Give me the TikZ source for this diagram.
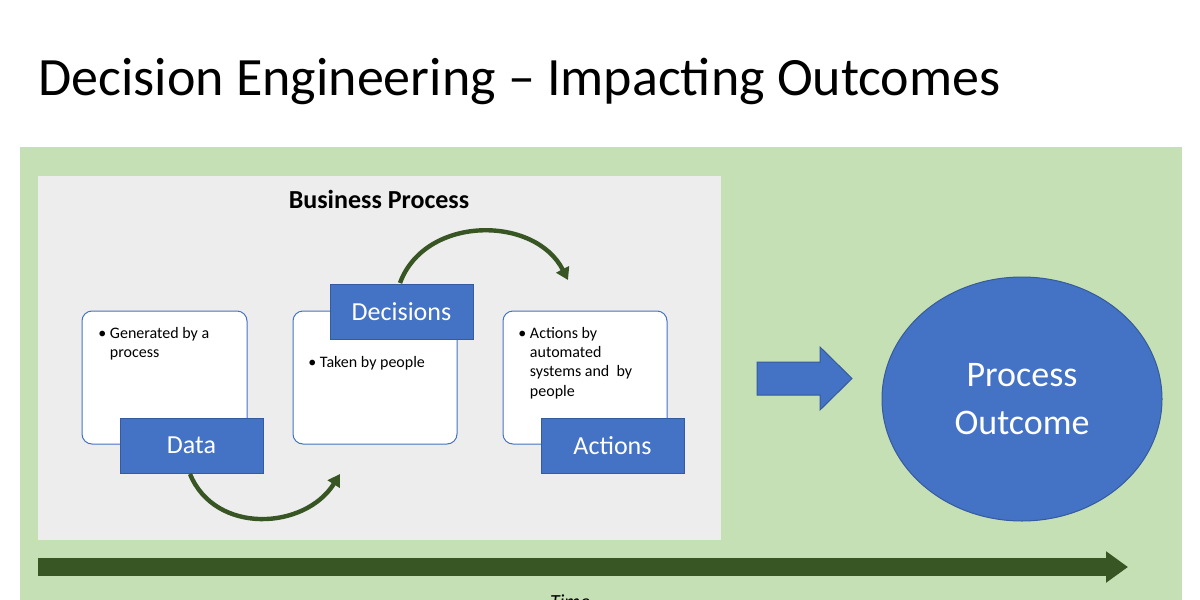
\documentclass[tikz,border=0pt]{standalone}
\usepackage{fontspec}
\setmainfont{Carlito}
\usetikzlibrary{shapes.geometric,arrows.meta}
\definecolor{bgreen}{HTML}{C5E0B4}
\definecolor{bgray}{HTML}{EDEDED}
\definecolor{mblue}{HTML}{4472C4}
\definecolor{dgreen}{HTML}{375623}
\begin{document}
\begin{tikzpicture}[x=0.5pt,y=-0.5pt,
  card/.style={draw=mblue,fill=white,rounded corners=5pt,line width=0.5pt},
  lbl/.style={draw=mblue!80!black,fill=mblue,text=white,minimum width=71.5pt,minimum height=27.5pt,font=\fontsize{13}{15}\selectfont,inner sep=0pt},
  bul/.style={anchor=north west,align=left,font=\fontsize{8}{9.6}\selectfont,inner sep=0pt},
  carrow/.style={draw=dgreen,line width=2.2pt,-{Triangle[length=6pt,width=7pt]}}]
\useasboundingbox (0,0) rectangle (1200,600);
\fill[white] (0,0) rectangle (1200,600);
\node[anchor=base west,inner sep=0pt,font=\fontsize{27}{31}\selectfont] (title) at (38,95) {Decision Engineering – Impacting Outcomes};
\fill[bgreen] (20,147) rectangle (1182,600);
\fill[bgray] (38,176) rectangle (721,540);
\node[font=\bfseries\fontsize{13}{15}\selectfont] (bp) at (379,199) {Business Process};
% cards
\draw[card] (82,311) rectangle (247,444);
\draw[card] (293,311) rectangle (457,444);
\draw[card] (503,311) rectangle (667,444);
\node[bul] (t1) at (98,327) {\textbullet\ Generated by a\\\phantom{\textbullet\ }process};
\node[bul] (t2) at (308,356) {\textbullet\ Taken by people};
\node[bul] (t3) at (518,327) {\textbullet\ Actions by\\\phantom{\textbullet\ }automated\\\phantom{\textbullet\ }systems and\ \ by\\\phantom{\textbullet\ }people};
\node[lbl] (data) at (191.5,445.5) {Data};
\node[lbl] (dec) at (401.5,311.5) {Decisions};
\node[lbl] (act) at (612.5,445.5) {Actions};
\coordinate (a1s) at (190,474);
\coordinate (a1e) at (340,474);
\coordinate (a2s) at (400,283);
\coordinate (a2e) at (568,280);
\draw[carrow] (a1s) .. controls (215,535) and (305,530) .. (a1e);
\draw[carrow] (a2s) .. controls (425,215) and (535,215) .. (a2e);
% block arrow
\draw[draw=mblue!80!black,fill=mblue,line width=0.5pt] (757,362) -- (820,362) -- (820,347) -- (852,378.5) -- (820,410) -- (820,395) -- (757,395) -- cycle;
\node[ellipse,draw=mblue!80!black,fill=mblue,minimum width=140pt,minimum height=122pt,text=white,align=center,font=\fontsize{18}{24}\selectfont,line width=0.5pt] (out) at (1022,399) {Process\\Outcome};
% time arrow
\coordinate (ts) at (38,567);
\coordinate (te) at (1128,567);
\draw[dgreen,line width=9pt,-{Triangle[length=11pt,width=15pt]}] (ts) -- (te);
\node[font=\itshape\fontsize{10}{12}\selectfont] (time) at (570,602) {Time};
\end{tikzpicture}
\end{document}
